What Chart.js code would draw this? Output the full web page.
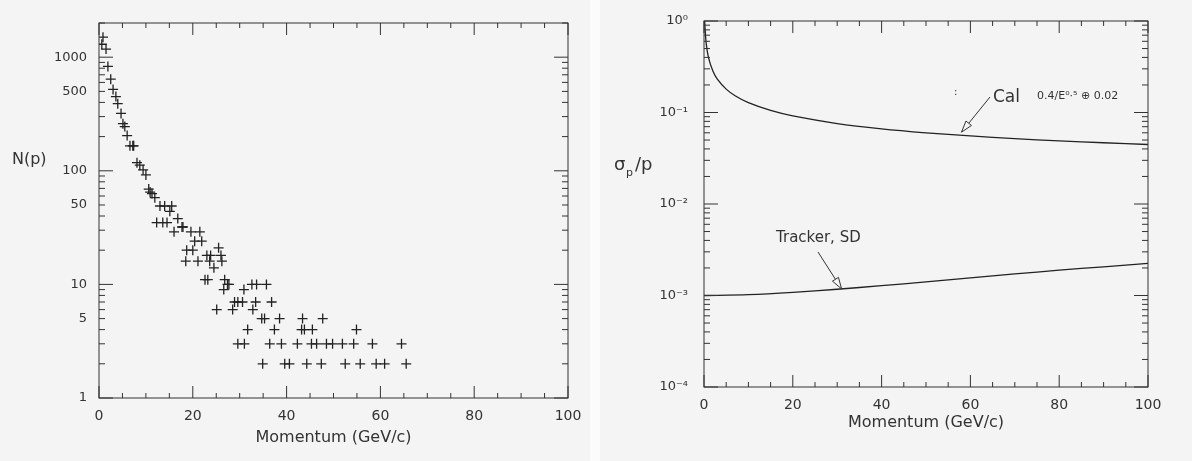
<!DOCTYPE html>
<html>
<head>
<meta charset="utf-8">
<script src="https://cdn.jsdelivr.net/npm/chart.js@4"></script>
<style>
  body { margin: 0; background: #f4f4f4; width: 1192px; height: 461px; position: relative; overflow: hidden; }
  .box { position: absolute; top: 0; height: 461px; }
  #leftBox { left: 0; width: 590px; }
  #rightBox { left: 600px; width: 592px; }
  #sep { position: absolute; left: 590px; width: 10px; top: 0; height: 461px; background: #fbfbfb; }
</style>
</head>
<body>
<div class="box" id="leftBox"><canvas id="leftChart" width="590" height="461"></canvas></div>
<div id="sep"></div>
<div class="box" id="rightBox"><canvas id="rightChart" width="592" height="461"></canvas></div>
<script>
// left panel: momentum spectrum
const spectrumP = [
    0.85, 0.6, 1.5, 1.9, 2.5, 3.0, 3.6, 4.0, 4.7, 5.1, 5.5, 6.0, 6.6, 7.2, 7.4, 8.1, 8.7, 9.4, 10.0,
    10.6, 11.3, 11.9, 10.9, 13.0, 14.0, 15.5, 15.1, 16.8, 12.3, 13.6, 14.5, 17.7, 17.9, 16.0, 19.6, 21.5,
    20.4, 21.9, 25.5, 18.7, 20.0, 23.0, 23.8, 26.0, 18.5, 21.1, 23.6, 26.2, 24.5,
    22.6, 23.2, 26.8, 27.4, 27.7, 32.6, 33.6, 35.7, 26.6, 30.9, 28.9, 29.6, 30.6, 33.4, 36.8,
    25.1, 28.5, 32.8, 34.7, 35.3, 38.5, 43.4, 47.7, 31.7, 37.4, 43.2, 43.8, 45.5, 54.9,
    29.6, 31.0, 36.4, 38.9, 42.3, 45.3, 46.4, 48.5, 49.8, 51.9, 54.3, 58.3, 64.5,
    34.9, 39.6, 40.6, 44.3, 47.4, 52.5, 55.7, 59.1, 60.9, 65.5
];
const spectrumN = [
    1500, 1300, 1180, 830, 640, 520, 450, 390, 320, 260, 245, 204, 166, 166, 166, 118, 112, 102, 92,
    69, 63, 58, 65, 49, 49, 49, 44, 38, 35, 35, 35, 32, 32, 29, 29, 29,
    24, 24, 21, 20, 20, 18, 18, 18, 16, 16, 16, 16, 14,
    11, 11, 11, 10, 10, 10, 10, 10, 9, 9, 7, 7, 7, 7, 7,
    6, 6, 6, 5, 5, 5, 5, 5, 4, 4, 4, 4, 4, 4,
    3, 3, 3, 3, 3, 3, 3, 3, 3, 3, 3, 3, 3,
    2, 2, 2, 2, 2, 2, 2, 2, 2, 2
];
const leftTicks = [1, 5, 10, 50, 100, 500, 1000];

// right panel: resolution curves
const calP = [0.16, 0.2, 0.5, 1, 2, 3, 5, 7, 10, 15, 20, 30, 40, 50, 60, 70, 80, 90, 100];
const calRes = [1.0, 0.895, 0.566, 0.4005, 0.2835, 0.2317, 0.18, 0.1525, 0.128, 0.1052, 0.0917,
    0.0757, 0.0663, 0.06, 0.0554, 0.0518, 0.049, 0.0467, 0.0447];
const trkP = [0, 10, 20, 30, 40, 50, 60, 70, 80, 90, 100];
const trkRes = [0.001, 0.00102, 0.00108, 0.00117, 0.00128, 0.00141, 0.00156, 0.00172, 0.00189, 0.00206, 0.00224];
const rightTicks = [1e-4, 1e-3, 1e-2, 1e-1, 1];
const rightTickText = { '0.0001': '10⁻⁴', '0.001': '10⁻³', '0.01': '10⁻²', '0.1': '10⁻¹', '1': '10⁰' };

const xTicks = [0, 20, 40, 60, 80, 100];
const ink = '#333';
const fontFam = '"DejaVu Sans", sans-serif';

// inward tick marks on all four sides, plus text notes and arrows
const frameTicks = {
    id: 'frameTicks',
    afterDraw(chart) {
        const { ctx, chartArea: a, scales: { x, y } } = chart;
        ctx.save();
        ctx.strokeStyle = ink;
        ctx.lineWidth = 1;
        ctx.strokeRect(a.left, a.top, a.right - a.left, a.bottom - a.top);
        for (let v = 0; v <= 100; v += 5) {
            const px = x.getPixelForValue(v);
            const len = v % 20 === 0 ? 12 : 5;
            ctx.beginPath();
            ctx.moveTo(px, a.bottom); ctx.lineTo(px, a.bottom - len);
            ctx.moveTo(px, a.top); ctx.lineTo(px, a.top + len);
            ctx.stroke();
        }
        const lo = Math.floor(Math.log10(y.min)), hi = Math.ceil(Math.log10(y.max));
        for (let e = lo; e <= hi; e++) {
            for (let m = 1; m < 10; m++) {
                const v = m * Math.pow(10, e);
                if (v < y.min * 0.999 || v > y.max * 1.001) continue;
                const py = y.getPixelForValue(v);
                const len = m === 1 ? 14 : 6;
                ctx.beginPath();
                ctx.moveTo(a.left, py); ctx.lineTo(a.left + len, py);
                ctx.moveTo(a.right, py); ctx.lineTo(a.right - len, py);
                ctx.stroke();
            }
        }
        const notes = chart.options.plugins.notes || [];
        ctx.fillStyle = ink;
        notes.forEach(n => {
            if (n.text) {
                ctx.font = n.font;
                ctx.textAlign = 'left';
                ctx.textBaseline = 'middle';
                ctx.fillText(n.text, n.px, n.py);
            }
            if (n.arrow) {
                const [x1, y1] = [x.getPixelForValue(n.arrow[0]), y.getPixelForValue(n.arrow[1])];
                const [x0, y0] = [n.arrow[2], n.arrow[3]];
                ctx.beginPath(); ctx.moveTo(x0, y0); ctx.lineTo(x1, y1); ctx.stroke();
                const ang = Math.atan2(y1 - y0, x1 - x0);
                ctx.beginPath();
                ctx.moveTo(x1, y1);
                ctx.lineTo(x1 - 12 * Math.cos(ang - 0.3), y1 - 12 * Math.sin(ang - 0.3));
                ctx.lineTo(x1 - 12 * Math.cos(ang + 0.3), y1 - 12 * Math.sin(ang + 0.3));
                ctx.closePath();
                ctx.fillStyle = '#f4f4f4'; ctx.fill(); ctx.stroke();
                ctx.fillStyle = ink;
            }
        });
        ctx.restore();
    }
};

const baseX = (h) => ({
    type: 'linear', min: 0, max: 100,
    grid: { display: false }, border: { display: false },
    afterBuildTicks: s => { s.ticks = xTicks.map(v => ({ value: v })); },
    ticks: { color: ink, font: { family: fontFam, size: 14 }, maxRotation: 0, padding: 2 },
    title: { display: true, text: 'Momentum (GeV/c)', color: ink, font: { family: fontFam, size: 16 }, padding: 0 },
    afterFit: s => { s.height = h; }
});

new Chart(document.getElementById('leftChart'), {
    type: 'scatter',
    data: {
        datasets: [{
            data: spectrumP.map((p, i) => ({ x: p, y: spectrumN[i] })),
            pointStyle: 'cross', radius: 5, borderColor: '#222', borderWidth: 1.3
        }]
    },
    options: {
        responsive: false, animation: false,
        layout: { padding: { top: 23, right: 22, left: 0, bottom: 14 } },
        plugins: {
            legend: { display: false }, tooltip: { enabled: false },
            notes: [{ text: 'N(p)', px: 12, py: 160, font: '16px ' + fontFam }]
        },
        scales: {
            x: baseX(49),
            y: {
                type: 'logarithmic', min: 1, max: 2000,
                grid: { display: false }, border: { display: false },
                afterBuildTicks: s => { s.ticks = leftTicks.map(v => ({ value: v })); },
                ticks: { color: ink, font: { family: fontFam, size: 13 }, callback: v => String(v), padding: 4 },
                afterFit: s => { s.width = 99; }
            }
        }
    },
    plugins: [frameTicks]
});

new Chart(document.getElementById('rightChart'), {
    type: 'scatter',
    data: {
        datasets: [
            { data: calP.map((p, i) => ({ x: p, y: calRes[i] })), showLine: true, pointRadius: 0, borderColor: '#222', borderWidth: 1.3, tension: 0.3 },
            { data: trkP.map((p, i) => ({ x: p, y: trkRes[i] })), showLine: true, pointRadius: 0, borderColor: '#222', borderWidth: 1.3, tension: 0.3 }
        ]
    },
    options: {
        responsive: false, animation: false,
        layout: { padding: { top: 21, right: 44, left: 0, bottom: 29 } },
        plugins: {
            legend: { display: false }, tooltip: { enabled: false },
            notes: [
                { text: 'σ', px: 14, py: 165, font: '18px ' + fontFam },
                { text: 'p', px: 26, py: 173, font: '11px ' + fontFam },
                { text: '/p', px: 35, py: 165, font: '18px ' + fontFam },
                { text: 'Cal', px: 393, py: 98, font: '17px ' + fontFam, arrow: [58, 0.061, 390, 97] },
                { text: '0.4/E⁰·⁵ ⊕ 0.02', px: 437, py: 96, font: '11px ' + fontFam },
                { text: ':', px: 354, py: 92, font: '10px ' + fontFam },
                { text: 'Tracker, SD', px: 176, py: 238, font: '15px ' + fontFam, arrow: [31, 0.00118, 218, 252] }
            ]
        },
        scales: {
            x: baseX(45),
            y: {
                type: 'logarithmic', min: 1e-4, max: 1,
                grid: { display: false }, border: { display: false },
                afterBuildTicks: s => { s.ticks = rightTicks.map(v => ({ value: v })); },
                ticks: { color: ink, font: { family: fontFam, size: 13 }, padding: 8,
                    callback: v => rightTickText[String(v)] || '' },
                afterFit: s => { s.width = 104; }
            }
        }
    },
    plugins: [frameTicks]
});
</script>
</body>
</html>
